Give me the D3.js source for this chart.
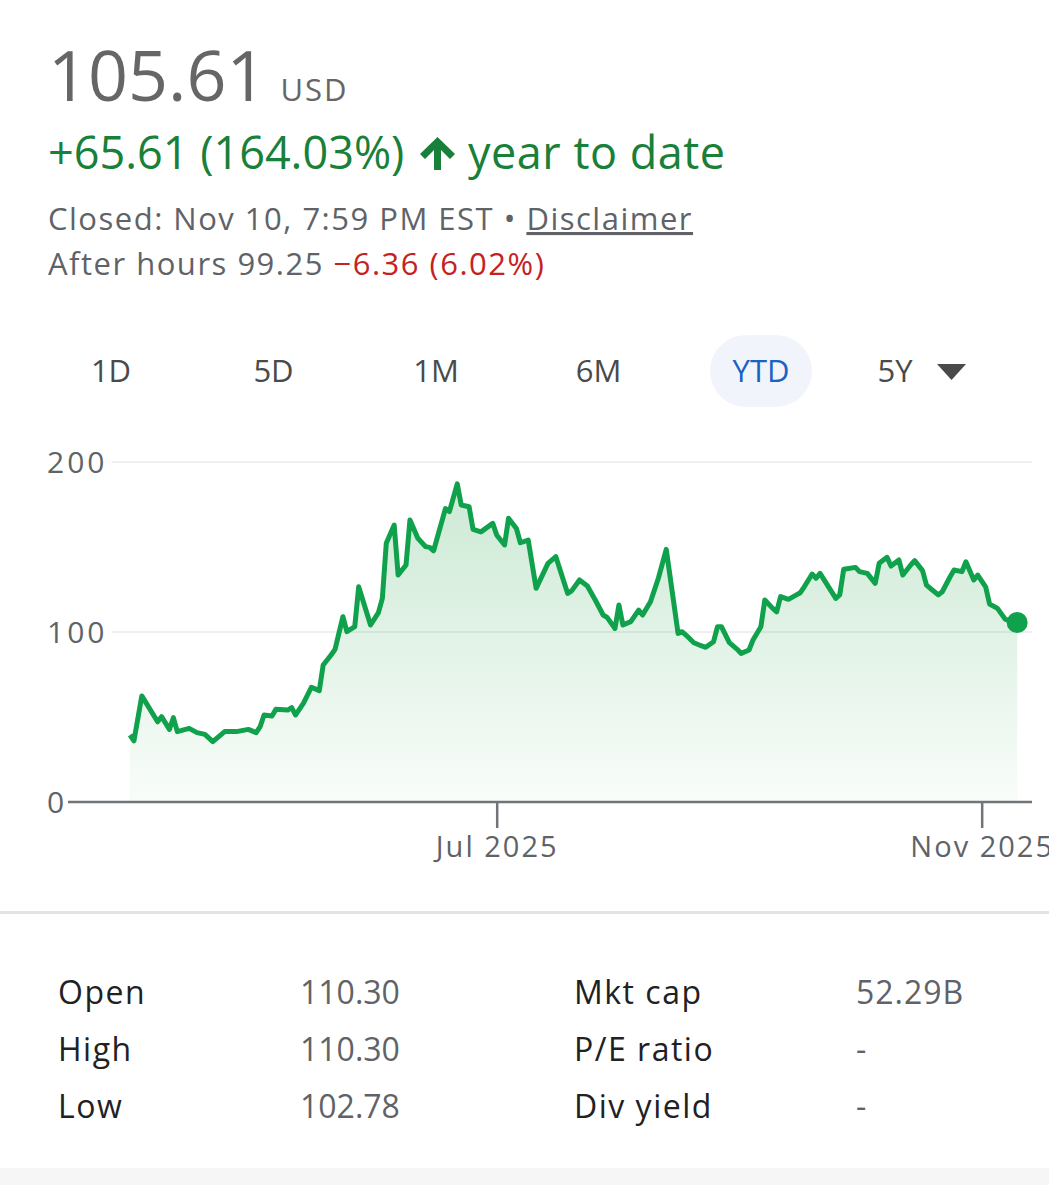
<!DOCTYPE html>
<html>
<head>
<meta charset="utf-8">
<script src="https://cdn.jsdelivr.net/npm/d3@7"></script>
<style>
  body { margin: 0; background: #fff; }
  svg { display: block; font-family: "Open Sans", Roboto, sans-serif; }
</style>
</head>
<body>
<div id="chart"></div>
<script>
// Dati (YTD)
const dates = [
  '2025-03-30','2025-03-31','2025-04-02','2025-04-06','2025-04-07','2025-04-09','2025-04-10','2025-04-11',
  '2025-04-14','2025-04-16','2025-04-18','2025-04-20','2025-04-23','2025-04-26','2025-04-29','2025-05-01',
  '2025-05-02','2025-05-03','2025-05-05','2025-05-06','2025-05-09','2025-05-10','2025-05-11','2025-05-13',
  '2025-05-15','2025-05-17','2025-05-18','2025-05-20','2025-05-21','2025-05-23','2025-05-24','2025-05-26',
  '2025-05-27','2025-05-30','2025-06-01','2025-06-02','2025-06-03','2025-06-05','2025-06-06','2025-06-08',
  '2025-06-09','2025-06-11','2025-06-13','2025-06-14','2025-06-15','2025-06-18','2025-06-19','2025-06-21',
  '2025-06-22','2025-06-24','2025-06-25','2025-06-27','2025-06-30','2025-07-01','2025-07-03','2025-07-04',
  '2025-07-06','2025-07-07','2025-07-09','2025-07-11','2025-07-14','2025-07-16','2025-07-19','2025-07-20',
  '2025-07-22','2025-07-24','2025-07-26','2025-07-28','2025-07-29','2025-07-31','2025-08-01','2025-08-02',
  '2025-08-04','2025-08-06','2025-08-07','2025-08-09','2025-08-11','2025-08-13','2025-08-16','2025-08-17',
  '2025-08-18','2025-08-20','2025-08-22','2025-08-23','2025-08-25','2025-08-26','2025-08-27','2025-08-29',
  '2025-08-31','2025-09-01','2025-09-03','2025-09-04','2025-09-06','2025-09-07','2025-09-09','2025-09-10',
  '2025-09-11','2025-09-13','2025-09-15','2025-09-16','2025-09-17','2025-09-19','2025-09-20','2025-09-21',
  '2025-09-25','2025-09-26','2025-09-27','2025-09-30','2025-10-01','2025-10-03','2025-10-05','2025-10-06',
  '2025-10-08','2025-10-09','2025-10-11','2025-10-12','2025-10-14','2025-10-15','2025-10-17','2025-10-18',
  '2025-10-19','2025-10-21','2025-10-22','2025-10-24','2025-10-25','2025-10-27','2025-10-28','2025-10-30',
  '2025-10-31','2025-11-02','2025-11-03','2025-11-05','2025-11-07','2025-11-10'
];
const prices = [
  39.4,36,62.4,47.2,50.2,42.7,49.6,41.4,
  43.3,40.8,39.8,35.5,41.4,41.4,42.7,40.8,
  44.3,51.2,50.6,54.5,54.1,55.5,51.2,58.1,
  67.5,65.5,80.6,86.5,89.8,109,100.2,103.1,
  126.6,104.1,111.4,119.8,152.2,162.9,133.5,139.4,
  165.9,155.1,150.2,149.8,147.8,172.6,170.8,187.1,
  174.7,173.7,160.4,158.9,163.9,157.1,151.2,166.9,
  160.9,152.5,154.1,125.7,140.4,144.3,122.7,124.2,
  130.6,127.1,118.8,110,108.6,102.1,115.9,104.1,
  106.1,112.9,110,117.8,131.6,148.6,99.2,100.2,
  98.2,93.7,91.8,91,94.3,103.1,103.1,93.7,
  89.8,87.4,89.4,95.3,103.1,118.8,113.9,111.9,
  120.8,119.2,121.8,123.1,126.6,134.1,131.6,134.5,
  119.8,121.8,136.9,138,135.5,134.5,128.6,140.4,
  143.9,138.8,142.4,133.5,139.4,142,136.1,127.6,
  125.6,121.8,123.7,132.5,136.5,135.5,141.3,130.6,
  133.5,126.6,116.5,113.9,107.4,105.61
];
const yTicks = [0, 100, 200];
const xTicks = ['2025-07-01', '2025-11-01'];
const tabs = ['1D', '5D', '1M', '6M', 'YTD'];
const lastTab = '5Y';
const statLabelsLeft = ['Open', 'High', 'Low'];
const statValuesLeft = ['110.30', '110.30', '102.78'];
const statLabelsRight = ['Mkt cap', 'P/E ratio', 'Div yield'];
const statValuesRight = ['52.29B', '-', '-'];

const [width, height] = [1049, 1185];
const green = '#10a14c';
const parse = d3.timeParse('%Y-%m-%d');
const data = dates.map((d, i) => ({ date: parse(d), value: prices[i] }));

const svg = d3.select('#chart').append('svg')
  .attr('width', width)
  .attr('height', height);

// Intestazione
const head = svg.append('g');
head.append('text').attr('x', 48).attr('y', 101)
  .attr('font-size', 70).attr('fill', '#666')
  .text('105.61')
  .append('tspan').attr('dx', 14).attr('font-size', 31).attr('letter-spacing', 2).text('USD');

head.append('text').attr('x', 48).attr('y', 169)
  .attr('font-size', 45).attr('fill', '#188038')
  .text('+65.61 (164.03%)');
head.append('text').attr('x', 468).attr('y', 169)
  .attr('font-size', 45).attr('fill', '#188038')
  .attr('letter-spacing', 0.5)
  .text('year to date');
// freccia verso l'alto
head.append('path')
  .attr('d', 'M437.5,137 L455,154 L450,159 L441,150 L441,170 L434,170 L434,150 L425,159 L420,154 Z')
  .attr('fill', '#188038');

const closed = head.append('text').attr('x', 48).attr('y', 230)
  .attr('font-size', 31).attr('fill', '#5f6368').attr('letter-spacing', 1.5);
closed.append('tspan').text('Closed: Nov 10, 7:59 PM EST • ');
closed.append('tspan').attr('text-decoration', 'underline').text('Disclaimer');

const after = head.append('text').attr('x', 48).attr('y', 275)
  .attr('font-size', 31).attr('fill', '#5f6368').attr('letter-spacing', 1.5);
after.append('tspan').text('After hours 99.25 ');
after.append('tspan').attr('fill', '#c5221f').text('−6.36 (6.02%)');

// Schede
const tabX = d3.scalePoint().domain(tabs).range([111, 761]);
svg.append('rect')
  .attr('x', tabX('YTD') - 51).attr('y', 335)
  .attr('width', 102).attr('height', 72).attr('rx', 36)
  .attr('fill', '#f1f5fb');
svg.append('g').selectAll('text')
  .data(tabs.concat([lastTab]))
  .enter()
  .append('text')
  .attr('x', (d) => (d === lastTab ? 895 : tabX(d)))
  .attr('y', 382)
  .attr('text-anchor', 'middle')
  .attr('font-size', 31)
  .attr('fill', (d) => (d === 'YTD' ? '#1a62c4' : '#4a4a4a'))
  .text((d) => d);
svg.append('path')
  .attr('d', 'M937,364 L966,364 L951.5,380 Z')
  .attr('fill', '#4a4a4a');

// Scale
const xScale = d3.scaleTime()
  .domain([parse('2025-03-30'), parse('2025-11-13')])
  .range([130, 1029]);
const yScale = d3.scaleLinear()
  .domain([0, 200])
  .range([802, 462]);

const defs = svg.append('defs');
const grad = defs.append('linearGradient')
  .attr('id', 'fill').attr('x1', 0).attr('x2', 0).attr('y1', 0).attr('y2', 1);
grad.append('stop').attr('offset', '0%').attr('stop-color', '#34a853').attr('stop-opacity', 0.25);
grad.append('stop').attr('offset', '100%').attr('stop-color', '#34a853').attr('stop-opacity', 0.03);

// Griglia
svg.append('g').selectAll('line')
  .data(yTicks.filter((d) => d > 0))
  .enter()
  .append('line')
  .attr('x1', 112).attr('x2', 1032)
  .attr('y1', (d) => yScale(d)).attr('y2', (d) => yScale(d))
  .attr('stroke', '#efefef').attr('stroke-width', 2);

svg.append('g').selectAll('text')
  .data(yTicks)
  .enter()
  .append('text')
  .attr('x', 47)
  .attr('y', (d) => yScale(d) + 11)
  .attr('font-size', 30)
  .attr('letter-spacing', 3)
  .attr('fill', '#5f6368')
  .text((d) => d);

// Area e linea
svg.append('path')
  .datum(data)
  .attr('fill', 'url(#fill)')
  .attr('d', d3.area()
    .x((d) => xScale(d.date))
    .y0(yScale(0))
    .y1((d) => yScale(d.value)));

svg.append('path')
  .datum(data)
  .attr('fill', 'none')
  .attr('stroke', green)
  .attr('stroke-width', 5)
  .attr('stroke-linejoin', 'round')
  .attr('d', d3.line()
    .x((d) => xScale(d.date))
    .y((d) => yScale(d.value)));

const last = data[data.length - 1];
svg.append('circle')
  .attr('cx', xScale(last.date))
  .attr('cy', yScale(last.value))
  .attr('r', 10.5)
  .attr('fill', green);

// Asse x
const xAxis = svg.append('g')
  .attr('transform', `translate(0,${yScale(0)})`)
  .call(d3.axisBottom(xScale)
    .tickValues(xTicks.map(parse))
    .tickSize(26)
    .tickFormat(d3.timeFormat('%b %Y')));
xAxis.select('.domain').remove();
xAxis.selectAll('line').attr('stroke', '#70757a').attr('stroke-width', 2.5);
xAxis.selectAll('text')
  .attr('font-family', '"Open Sans", Roboto, sans-serif')
  .attr('font-size', 29)
  .attr('letter-spacing', 2)
  .attr('fill', '#5f6368')
  .attr('dy', 0)
  .attr('y', 55);
svg.append('line')
  .attr('x1', 68).attr('x2', 1032)
  .attr('y1', yScale(0)).attr('y2', yScale(0))
  .attr('stroke', '#70757a').attr('stroke-width', 2.5);

// Divisore
svg.append('rect')
  .attr('x', 0).attr('y', 911).attr('width', width).attr('height', 3)
  .attr('fill', '#e3e3e6');

// Tabella
const rowY = d3.scalePoint().domain(statLabelsLeft).range([1004, 1118]);
const stats = svg.append('g').attr('font-size', 32);
const cols = [
  [statLabelsLeft, 58, '#202124', 1.5],
  [statValuesLeft, 300, '#5f6368', 0],
  [statLabelsRight, 574, '#202124', 1.5],
  [statValuesRight, 856, '#5f6368', 1]
];
cols.forEach(([vals, x, color, spacing]) => {
  stats.append('g').selectAll('text')
    .data(vals)
    .enter()
    .append('text')
    .attr('x', x)
    .attr('y', (d, i) => rowY(statLabelsLeft[i]))
    .attr('fill', color)
    .attr('letter-spacing', spacing)
    .text((d) => d);
});

svg.append('rect')
  .attr('x', 0).attr('y', 1168).attr('width', width).attr('height', 17)
  .attr('fill', '#f6f6f6');
</script>
</body>
</html>
